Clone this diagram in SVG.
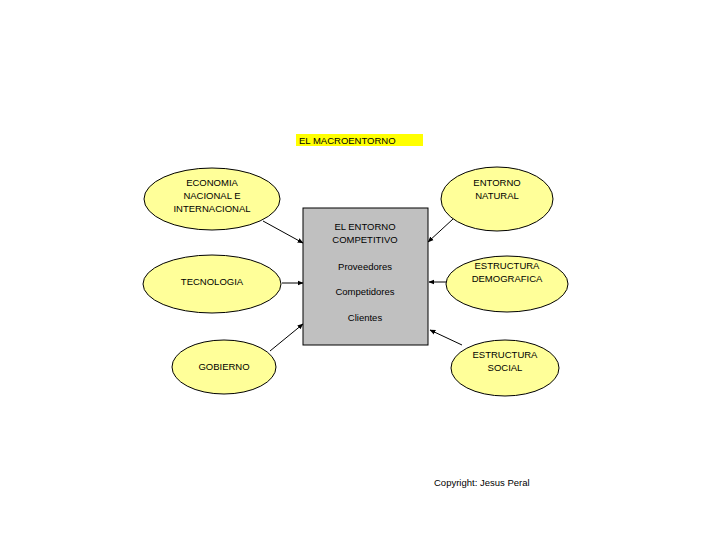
<svg xmlns="http://www.w3.org/2000/svg" width="720" height="540" viewBox="0 0 720 540">
<style>
text{font-family:"Liberation Sans",Arial,sans-serif;font-size:9.5px;fill:#000;text-anchor:middle}
.e{fill:#ffff99;stroke:#000;stroke-width:1}
.c{stroke:#000;stroke-width:1;fill:none;marker-end:url(#a)}
</style>
<defs><marker id="a" viewBox="0 0 10 10" refX="9" refY="5" markerWidth="6" markerHeight="6" orient="auto"><path d="M0,1 L10,5 L0,9z" fill="#000"/></marker></defs>
<rect width="720" height="540" fill="#fff"/>
<g id="title"><rect x="296" y="134" width="127" height="12" fill="#ffff00"/><text x="299" y="144" style="text-anchor:start">EL MACROENTORNO</text></g>
<g id="connectors">
<line class="c" x1="263" y1="221" x2="303" y2="243"/>
<line class="c" x1="282" y1="283" x2="303" y2="283"/>
<line class="c" x1="270" y1="351" x2="303" y2="324"/>
<line class="c" x1="453" y1="219" x2="428" y2="242"/>
<line class="c" x1="446" y1="282" x2="429" y2="282"/>
<line class="c" x1="462" y1="345" x2="430" y2="330"/>
</g>
<g id="center"><rect x="303" y="208" width="125" height="137" fill="#c0c0c0" stroke="#000"/>
<text x="365" y="230">EL ENTORNO</text><text x="365" y="243">COMPETITIVO</text><text x="365" y="270">Proveedores</text><text x="365" y="295">Competidores</text><text x="365" y="321">Clientes</text></g>
<g id="economia"><ellipse class="e" cx="212" cy="199" rx="68" ry="31"/><text x="212" y="186">ECONOMIA</text><text x="212" y="199">NACIONAL E</text><text x="212" y="212">INTERNACIONAL</text></g>
<g id="tecnologia"><ellipse class="e" cx="212" cy="284" rx="69" ry="29"/><text x="212" y="285">TECNOLOGIA</text></g>
<g id="gobierno"><ellipse class="e" cx="224" cy="367" rx="52" ry="27"/><text x="224" y="370">GOBIERNO</text></g>
<g id="natural"><ellipse class="e" cx="497" cy="199" rx="56" ry="32"/><text x="497" y="186">ENTORNO</text><text x="497" y="199">NATURAL</text></g>
<g id="demografica"><ellipse class="e" cx="507" cy="284" rx="61" ry="28"/><text x="507" y="269">ESTRUCTURA</text><text x="507" y="282">DEMOGRAFICA</text></g>
<g id="social"><ellipse class="e" cx="505" cy="368" rx="54" ry="28"/><text x="505" y="358">ESTRUCTURA</text><text x="505" y="371">SOCIAL</text></g>
<text x="434" y="486" style="text-anchor:start">Copyright: Jesus Peral</text>
</svg>
